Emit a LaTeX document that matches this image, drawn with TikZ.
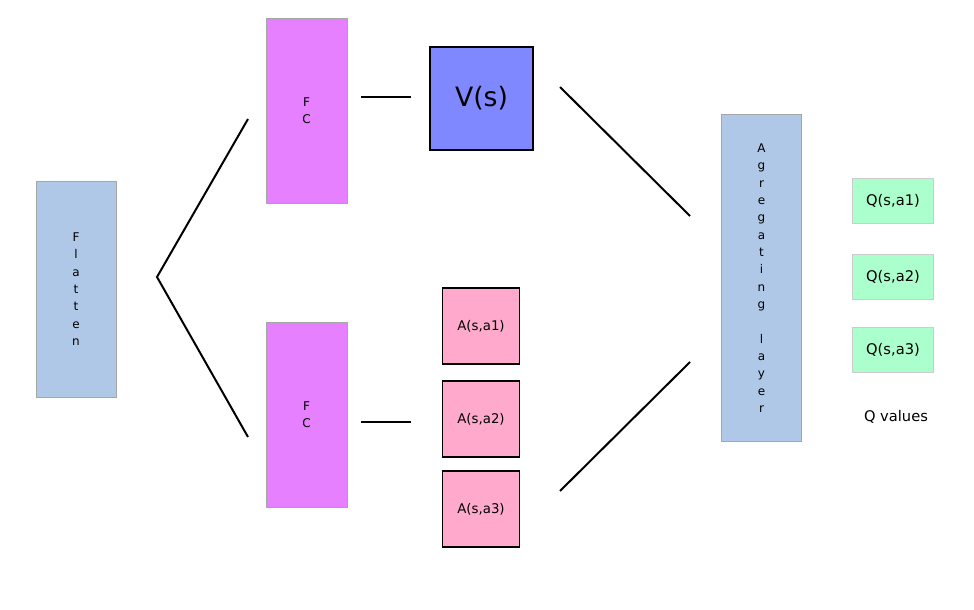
\documentclass[tikz,border=0pt]{standalone}
\usepackage{fontspec}
\setmainfont{DejaVu Sans}
\usetikzlibrary{positioning}
\definecolor{flatblue}{HTML}{B0C8E8}
\definecolor{fcviolet}{HTML}{E680FF}
\definecolor{vblue}{HTML}{8088FF}
\definecolor{apink}{HTML}{FFAACC}
\definecolor{qgreen}{HTML}{AAFFCC}
\tikzset{
  layer/.style={rectangle, draw=black!35, fill=flatblue, inner sep=0pt, align=center,
    font=\fontsize{9}{13}\selectfont},
  fc/.style={layer, fill=fcviolet, minimum width=61pt, minimum height=139pt},
  abox/.style={rectangle, draw=black, thick, fill=apink, minimum width=58pt, minimum height=57pt,
    inner sep=0pt, font=\fontsize{10}{12}\selectfont},
  qbox/.style={rectangle, draw=black!20, fill=qgreen, minimum width=61pt, minimum height=34pt,
    inner sep=0pt, font=\fontsize{11}{13}\selectfont},
  link/.style={line width=1.5pt},
  thin link/.style={line width=0.8pt}
}
\begin{document}
\begin{tikzpicture}[x=0.75pt, y=-0.75pt]
  \useasboundingbox (0,0) rectangle (974,610);

  \node (flat) [layer, minimum width=60pt, minimum height=162pt] at (76,289) {F\\l\\a\\t\\t\\e\\n};
  \node (fc1) [fc] at (306.5,110.5) {F\\C};
  \node (fc2) [fc] at (306.5,414.5) {F\\C};
  \node (vs) [rectangle, draw=black, line width=1.5pt, fill=vblue, minimum width=77pt, minimum height=77pt,
    font=\fontsize{20}{24}\selectfont] at (481.5,98.5) {V(s)};
  \node (a1) [abox] at (481,326) {A(s,a1)};
  \node (a2) [abox] at (481,419) {A(s,a2)};
  \node (a3) [abox] at (481,509) {A(s,a3)};
  \node (agg) [layer, minimum width=60pt, minimum height=245pt] at (761.5,278)
    {A\\g\\r\\e\\g\\a\\t\\i\\n\\g\\ \\l\\a\\y\\e\\r};
  \node (q1) [qbox] at (893,200.5) {Q(s,a1)};
  \node (q2) [qbox] at (893,276.5) {Q(s,a2)};
  \node (q3) [qbox] at (893,349.5) {Q(s,a3)};
  \node (qval) [font=\fontsize{11}{13}\selectfont] at (896,417) {Q values};

  % connectors
  \coordinate (split) at (157,277);
  \coordinate (up) at (248,119);
  \coordinate (down) at (248,437);
  \coordinate (fc1out) at (361,97);
  \coordinate (vsin) at (411,97);
  \coordinate (fc2out) at (361,422);
  \coordinate (a2in) at (411,422);
  \coordinate (vsout) at (560,87);
  \coordinate (aggtop) at (690,216);
  \coordinate (a3out) at (560,491);
  \coordinate (aggbot) at (690,362);

  \draw [link] (up) -- (split) -- (down);
  \draw [thin link] (fc1out) -- (vsin);
  \draw [thin link] (fc2out) -- (a2in);
  \draw [link] (vsout) -- (aggtop);
  \draw [link] (a3out) -- (aggbot);
\end{tikzpicture}
\end{document}
